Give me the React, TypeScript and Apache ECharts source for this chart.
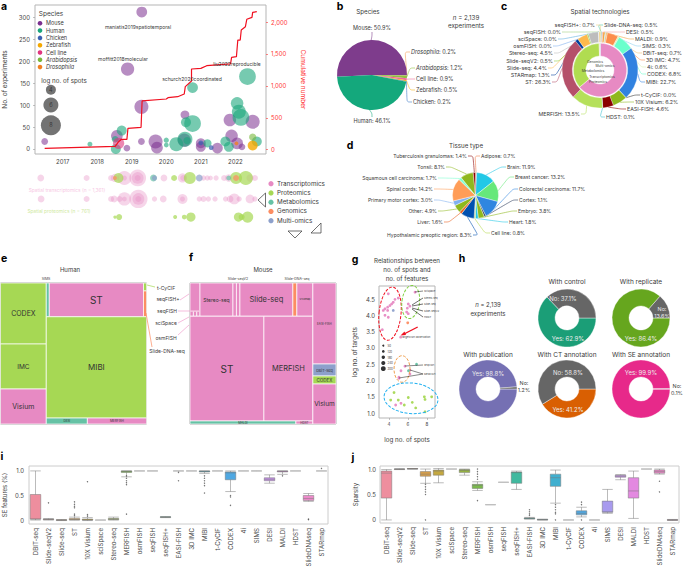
import React, { useEffect, useRef } from "react";
import * as echarts from "echarts";

const FONT = "Inter, Roboto, sans-serif";
const INK = "#3a3a3a";

// ---------- panel a ---------- [year, experiments, log spots]
const mouseBubbles = [[2016.48,17,2.7],[2019.29,312,4.3],[2018.88,182,5.3],[2019.28,96,5.6],[2019.28,17,2.7],[2018.57,30,4.7],[2018.86,2,2.7],[2019.69,17,5.6],[2019.73,3,4.7],[2020.54,78,3.5],[2020.52,20,5.3],[2021,13,4],[2021,5,4],[2021.48,2,4.3],[2021.84,66,5],[2021.89,30,5],[2022.05,13,4.7],[2022.5,62,5.6],[2022.19,5,2.7]];
const humanBubbles = [[2017.79,11,2],[2018.54,0,4],[2018.52,22,2.7],[2018.71,42,4],[2020,20,2.1],[2020,9,1.9],[2020.29,11,5.6],[2020.54,22,6],[2020.76,140,4.3],[2020.76,58,6.7],[2020.57,61,4],[2022.35,165,6.7],[2022.05,104,5],[2022.1,85,5.6],[2022.16,72,6.7],[2021.81,5,4],[2021.71,17,4],[2022.62,17,4],[2021.19,13,3.3],[2020.6,19,2.9]];
const chickenBubbles = [[2021.3,3,1.9],[2021,14,1.9]];
const zebrafishBubbles = [[2022.5,8,4]];
const cellLineBubbles = [[2018.62,13,4.5]];
const arabidopsisBubbles = [[2022.5,27,2.9]];
const drosophilaBubbles = [[2022.03,13,1.5]];
const sizeKeyBubbles = [[2016.66,135,4],[2016.66,100,6],[2016.66,54,8]];
const cumulative = [[2016.48,20],[2018.52,52],[2018.62,125],[2018.7,162],[2018.86,162],[2018.89,334],[2019.27,350],[2019.3,763],[2020,794],[2020.05,815],[2020.33,830],[2020.52,872],[2020.55,987],[2020.73,1076],[2020.73,1264],[2021,1274],[2021.17,1316],[2021.86,1343],[2021.89,1447],[2022.03,1457],[2022.07,1718],[2022.14,1718],[2022.17,1875],[2022.29,1927],[2022.33,2043],[2022.48,2074],[2022.5,2152],[2022.62,2163]];
const yearTicks = [2017,2018,2019,2020,2021,2022];
const experimentTicks = [0,50,100,150,200,250,300];
const cumulativeTicks = [0,500,1000,1500,2000];

// strips: [year, log spots]
const stripTranscriptomics1 = [[2016.45,2.7],[2017.76,2.4],[2018.46,2.4],[2018.57,3.3],[2018.84,5.6],[2018.84,2],[2019.22,6.7],[2019.22,4.7],[2019.22,2.4],[2019.97,2.7],[2020.5,3.7],[2020.52,2.4],[2021.1,2.1],[2021.21,2.1],[2021.3,1.9],[2021.46,2.1],[2021.69,2.4],[2021.82,2.9],[2022.43,2.9],[2022.57,2.4]];
const stripProteomics1 = [[2018.67,4],[2020.26,2.4],[2020.71,4.8],[2022.03,4.8],[2022.31,5.6]];
const stripMetabolomics1 = [[2019.67,2.7],[2021.82,1.9]];
const stripGenomics1 = [[2022.03,2.4],[2018.57,1.6]];
const stripMultiomics1 = [[2019.7,2.1],[2020.98,2.7]];
const stripTranscriptomics2 = [[2016.46,2.7],[2017.76,2.4],[2018.46,2.4],[2018.55,2.7],[2018.7,2.4],[2018.84,5.3],[2018.84,1.9],[2019.24,7.3],[2019.24,4.7],[2019.24,2.4],[2019.7,2.1],[2019.95,2.7],[2020.5,4],[2020.5,2],[2020.98,2.1],[2021.1,2.4],[2021.24,2.1],[2021.43,2.1],[2021.73,2.1],[2021.86,2.7],[2021.98,4.3],[2022.12,2.1],[2022.43,3.5],[2022.57,2.1]];
const stripProteomics3 = [[2018.57,1.3],[2018.69,2.4],[2020.29,1.6],[2020.55,1.9],[2020.74,3.7],[2022.1,3.7],[2022.36,4.5],[2022.19,2.4]];

// ---------- panels b, c, d ----------
const speciesNames = ["Mouse","Drosophila","Arabidopsis","Cell line","Zebrafish","Chicken","Human"];
const speciesValues = [50.9,0.2,1.2,0.9,0.5,0.2,46.1];
const techNames = ["Slide-DNA-seq","DESI","MALDI","SIMS","DBiT-seq","3D IMC","4i","CODEX","MIBI","t-CyCIF","10X Visium","EASI-FISH","HDST","MERFISH","ST","STARmap","Slide-seq","Slide-seqV2","Stereo-seq","osmFISH","sciSpace","seqFISH","seqFISH+"];
const techValues = [0.5,0.5,0.9,0.3,0.7,4.7,0.6,6.8,22.7,0.02,6.2,4.6,0.1,13.5,26.3,1.3,4.4,0.5,4.5,0.02,0.02,0.02,0.7];
const omicsNames = ["Transcriptomics","Proteomics","Metabolomics","Genomics","Multi-omics"];
const omicsValues = [63.6,35.6,0.3,0.2,0.3];
const tissueNames = ["Adipose","Brain","Breast cancer","Colorectal carcinoma","Cortex","Embryo","Heart","Cell line","Hypothalamic preoptic region","Liver","Other","Primary motor cortex","Spinal cords","Squamous cell carcinoma","Tonsil","Tuberculosis granulomas"];
const tissueValues = [0.7,11.9,13.2,11.7,1.1,3.8,1.8,0.8,8.3,1.6,4.9,3.0,14.2,1.7,8.1,1.4];

// ---------- panels e, f: cell areas ----------
const humanTree = { split: "h", children: [
  { split: "v", children: [{ name: "CODEX", omic: 1, value: 2806 },{ name: "IMC", omic: 1, value: 2070 },{ name: "Visium", omic: 0, value: 1610 }] },
  { split: "v", children: [
    { split: "h", children: [{ name: "SIMS", omic: 2, value: 102 },{ name: "ST", omic: 0, value: 3196 },{ split: "v", children: [{ name: "t-CyCIF", omic: 1, value: 24 },{ name: "Slide-DNA-seq", omic: 3, value: 78 }] }] },
    { name: "MIBI", omic: 1, value: 10200 },
    { split: "h", children: [{ name: "DESI", omic: 2, value: 246 },{ name: "MERFISH", omic: 0, value: 354 }] },
  ] },
] };
const mouseTree = { split: "h", children: [
  { split: "v", children: [
    { split: "h", children: [
      { split: "v", children: [{ name: "seqFISH+", omic: 0, value: 280 },{ split: "h", children: [{ name: "seqFISH", omic: 0, value: 17 },{ name: "sciSpace", omic: 0, value: 17 },{ name: "osmFISH", omic: 0, value: 16 }] }] },
      { name: "Stereo-seq", omic: 0, value: 1089 },
      { name: "Slide-seqV2", omic: 0, value: 115 },
      { name: "Slide-seqV2b", omic: 0, value: 115 },
      { name: "Slide-seq", omic: 0, value: 1749 },
      { name: "Slide-DNA-seq", omic: 3, value: 132 },
      { name: "STARmap", omic: 0, value: 528 },
    ] },
    { split: "h", children: [{ name: "ST", omic: 0, value: 7696 },{ name: "MERFISH", omic: 0, value: 5096 }] },
    { split: "h", children: [{ name: "MALDI", omic: 2, value: 318 },{ name: "HDST", omic: 0, value: 51 }] },
  ] },
  { split: "v", children: [{ name: "EASI-FISH", omic: 0, value: 1863 },{ name: "DBiT-seq", omic: 4, value: 276 },{ name: "CODEX", omic: 1, value: 184 },{ name: "Visium", omic: 0, value: 920 }] },
] };

// ---------- panel g ---------- [log spots, log targets]
const gTranscriptomics = [[3.93,4.66],[4.98,4.53],[4.63,4.49],[4.45,4.4],[4.28,4.35],[4.1,4.3],[3.86,4.25],[3.58,4.2],[3.4,4.15],[3.86,4.15],[3.58,4],[3.93,3.94],[3.3,3.56],[5.23,3.33],[6.74,4.71],[6.03,4.35],[5.93,4.22],[6.2,4.28],[5.86,4.1],[6.03,4.05],[5.68,2.44],[6.2,2.32],[5.26,2.3],[6.2,2.2],[5.05,2.1],[5.05,2.07],[4.7,1.25],[5.26,1.3]];
const gProteomics = [[4.53,1.63],[4.18,1.4],[4.98,1.4],[5.61,1.25],[6.03,1.48],[7.72,1.5],[7.79,1.42],[8.49,1.5],[6.45,1.33],[6.81,1.16],[7.79,1.04]];
const gMetabolomics = [[6.9,2.5],[6.05,2.3]];
const gGenomics = [[5.97,3.77]];
const gMultiomics = [[4.45,4.15]];
const gTicksX = [4,6,8];
const gTicksY = [1,1.5,2,2.5,3,3.5,4,4.5];

// ---------- panel h ----------
const answerNames = ["Yes","No"];
const controlValues = [62.9,37.1];
const replicateValues = [86.4,13.6];
const publicationValues = [98.8,1.2];
const ctValues = [41.2,58.8];
const seValues = [99.9,0.1];

// ---------- panels i, j ----------
const boxCategoriesI = ["DBIT-seq","Slide-seqV2","Slide-seq","ST","10X Visium","sciSpace","Stereo-seq","MERFISH","osmFISH","seqFISH","seqFISH+","EASI-FISH","3D IMC","MIBI","t-CyCIF","CODEX","4i","SIMS","DESI","MALDI","HDST","SlideDNAseq","STARmap"];
const boxCategoriesJ = ["DBiT-seq","Slide-seqV2","Slide-seq","ST","10X Visium","sciSpace","Stereo-seq","MERFISH","osmFISH","seqFISH","seqFISH+","EASI-FISH","3D IMC","MIBI","t-CyCIF","CODEX","4i","SIMS","DESI","MALDI","HDST","SlideDNAseq","STARmap"];
const seBoxes = [[0,0.02,0.02,0.52,1],[0,0.01,0.015,0.02,0.03],[-0.01,-0.005,0,0.005,0.01],[0,0.005,0.01,0.03,0.06],[-0.01,0,0.005,0.02,0.05],[0,0,0,0,0],[0,0.01,0.02,0.03,0.06],[0.88,0.97,0.99,1,1],[1,1,1,1,1],[1,1,1,1,1],[0.05,0.055,0.06,0.065,0.07],[1,1,1,1,1],[1,1,1,1,1],[0.95,0.98,0.99,1,1],[1,1,1,1,1],[0.58,0.82,0.96,0.98,1],[1,1,1,1,1],[0.995,1,1,1,1.005],[0.75,0.8,0.83,0.86,0.92],[0.93,0.98,0.99,1,1],[1,1,1,1,1],[0.38,0.4,0.44,0.5,0.54],[1,1,1,1,1]];
const seOutliers = [[1,0.35],[3,0.37],[3,0.32],[3,0.28],[3,0.25],[3,0.12],[3,0.09],[4,0.78],[4,0.11],[4,0.08],[7,0.9],[7,0.85],[7,0.8],[7,0.76],[7,0.72],[7,0.12],[11,0.97],[11,0.8],[13,0.9],[13,0.85],[13,0.8],[13,0.75],[13,0.7],[13,0.55],[15,0.5],[15,0.47],[15,0.3],[19,0.9],[21,0.02],[21,0.01],[22,1.05]];
const sparsityBoxes = [[0,0.43,0.92,0.96,0.99],[0.99,0.995,1,1,1.005],[1,1,1.005,1.01,1.01],[0.72,0.86,0.9,0.95,1],[0.73,0.88,0.96,0.98,1.01],[1,1,1,1,1],[0.88,0.93,0.97,0.99,1],[0.58,0.62,0.68,0.7,0.75],[0.3,0.3,0.3,0.3,0.3],[0.74,0.74,0.74,0.74,0.74],[0.6,0.72,0.93,0.94,0.96],[0.02,0.02,0.03,0.04,0.05],[0,0,0.005,0.01,0.015],[0.33,0.66,0.83,0.9,0.98],[0,0,0,0,0],[0.06,0.1,0.13,0.18,0.25],[0,0,0,0,0],[0.13,0.15,0.16,0.37,0.6],[0.79,0.84,0.86,0.88,0.89],[0.03,0.43,0.57,0.83,0.96],[1,1,1,1,1],[0.9,0.92,0.95,0.98,1],[-0.01,-0.005,0,0.005,0.01]];
const sparsityOutliers = [[3,0.7],[3,0.65],[3,0.6],[3,0.55],[3,0.5],[3,0],[7,0.8],[7,0.85],[7,0.9],[7,0.95],[7,1],[7,0.38],[11,0.2],[11,0.16],[11,0.12],[11,0.09],[13,0.3],[13,0.25],[13,0.2],[13,0.15],[13,0.12],[13,0],[15,0.3],[15,0.35],[15,0],[21,0.76],[21,0.55]];
const boxColors = ["#ee8e9e","#e9927f","#e2996a","#d9a04a","#c4a83f","#aeb03f","#96b53f","#7aba4a","#45bd80","#43bb95","#41b99f","#3eb6ad","#3eb3bf","#40afcf","#45acda","#4fa8e2","#7ba0ea","#a89aee","#c791ea","#e389e0","#ea89d6","#ee8acb","#f08bb5"];

const OMIC_COLORS = ["#e78ac3","#a6d854","#66c2a5","#fc8d62","#8da0cb"];
const SPECIES_COLORS = ["#7b2f8f","#1aa67b","#3a5fb0","#f5a800","#e0367f","#78b83c","#f08020"];
const SPECIES_PIE = ["#7e3c8c","#f5a050","#8fc040","#f06a96","#f5b820","#3a78c8","#14a87c"];
const TECH_COLORS = ["#4cc9a8","#f0a0a0","#f2a23c","#8ad0f0","#f0c070","#fc8d4c","#d8f0b0","#6affcc","#3182e0","#333","#8fb81e","#8b0000","#40c0d0","#b5e05a","#b5506a","#003e9c","#fdb94c","#8ad040","#bdbdbd","#80b0f0","#60b0e0","#a0d080","#f0d080"];
const TISSUE_COLORS = ["#f07848","#22c8e6","#66e87a","#2f86e0","#2a3a5a","#8fb81e","#22c8e6","#b5d84a","#0050b0","#e86020","#8fb81e","#80b0f0","#ff9d58","#80ffd0","#8fb81e","#8b0000"];
const TREE_SIZES = { "CODEX|h": 7, "IMC": 6.5, "Visium|h": 7, "ST|h": 10, "MIBI": 8, "DESI": 3, "MERFISH|h": 3.2, "Stereo-seq": 5, "Slide-seq": 7.5, "STARmap": 2.4, "ST|m": 10, "MERFISH|m": 7.5, "EASI-FISH": 3, "DBiT-seq": 3.8, "CODEX|m": 4.6, "Visium|m": 6.5, "MALDI": 3, "HDST": 3 };

function layoutTree(node: any, x0: number, x1: number, y0: number, y1: number, out: any[]) {
  if (!node.children) { out.push({ x0, x1, y0, y1, name: node.name, omic: node.omic }); return; }
  const sum = (n: any): number => n.children ? n.children.reduce((a: number, c: any) => a + sum(c), 0) : n.value;
  const total = sum(node);
  let pos = node.split === "h" ? x0 : y0;
  node.children.forEach((c: any) => {
    const span = (sum(c) / total) * (node.split === "h" ? x1 - x0 : y1 - y0);
    if (node.split === "h") layoutTree(c, pos, pos + span, y0, y1, out);
    else layoutTree(c, x0, x1, pos, pos + span, out);
    pos += span;
  });
}

function treeSeries(tree: any, axis: number, suffix: string) {
  const cells: any[] = [];
  layoutTree(tree, 0, 1, 0, 1, cells);
  return {
    type: "custom", coordinateSystem: "cartesian2d", xAxisIndex: axis, yAxisIndex: axis + 1, silent: true, clip: false,
    encode: { x: [0, 1], y: [2, 3] },
    data: cells.map((c) => [c.x0, c.x1, c.y0, c.y1]),
    renderItem: (params: any, api: any) => {
      const cell = cells[params.dataIndex];
      const a = api.coord([api.value(0), api.value(2)]);
      const b = api.coord([api.value(1), api.value(3)]);
      const size = (TREE_SIZES as any)[cell.name] || (TREE_SIZES as any)[cell.name + "|" + suffix];
      const children: any[] = [{ type: "rect", shape: { x: a[0], y: a[1], width: b[0] - a[0], height: b[1] - a[1] }, style: { fill: OMIC_COLORS[cell.omic], stroke: "#fff", lineWidth: 0.7, opacity: 1 } }];
      if (size) children.push({ type: "text", style: { text: cell.name, x: (a[0] + b[0]) / 2, y: (a[1] + b[1]) / 2, align: "center", verticalAlign: "middle", fontSize: size, fontFamily: FONT, fill: "#333" } });
      return { type: "group", children };
    },
  };
}

function bubbleSeries(data: number[][], color: string, opacity = 0.6, name?: string) {
  return { type: "scatter", name, xAxisIndex: 0, yAxisIndex: 0, silent: true, data, symbolSize: (v: number[]) => v[2] * 2.5, itemStyle: { color, opacity } };
}
function stripSeries(data: number[][], row: number, color: string, opacity = 0.36) {
  return { type: "scatter", xAxisIndex: 1, yAxisIndex: 2, silent: true, data: data.map((d) => [d[0], row, d[1]]), symbolSize: (v: number[]) => v[2] * 2.5, itemStyle: { color, opacity } };
}

function makePlacedPie(opts: any) {
  const { names, values, colors, center, radius, startAngle, places, fontSize, formatter, lineShow = true, labelColor = INK, border = 0 } = opts;
  const total = values.reduce((a: number, b: number) => a + b, 0);
  const mid: number[] = [];
  let acc = startAngle;
  values.forEach((v: number) => { const s = (v / total) * 360; mid.push(acc - s / 2); acc -= s; });
  return {
    type: "pie", silent: true, center, radius, startAngle, clockwise: true, avoidLabelOverlap: false, minShowLabelAngle: 0,
    data: names.map((n: string, i: number) => ({ name: n, value: values[i], itemStyle: { color: colors[i] } })),
    itemStyle: { borderColor: "#fff", borderWidth: border },
    label: { show: true, position: "outside", fontSize, fontFamily: FONT, color: labelColor, formatter, rich: { i: { fontStyle: "italic", fontSize, fontFamily: FONT, color: labelColor } }, lineHeight: fontSize + 1.5 },
    labelLine: { show: lineShow, smooth: 0.25, lineStyle: { width: 0.6 } },
    labelLayout: (p: any) => {
      const q = places[p.dataIndex];
      const rad = (mid[p.dataIndex] * Math.PI) / 180;
      const ex = center[0] + radius[1] * Math.cos(rad);
      const ey = center[1] - radius[1] * Math.sin(rad);
      const dir = q[2] === "left" ? -1 : q[2] === "right" ? 1 : 0;
      const end = dir === 0 ? [q[0], q[1] + (ey > q[1] ? 4 : -4)] : [q[0] + dir * 1, q[1]];
      const knee = dir === 0 ? [q[0], (end[1] + ey) / 2] : [q[0] + dir * 6, q[1]];
      return { x: q[0], y: q[1], align: q[2], verticalAlign: "middle", labelLinePoints: [[ex, ey], knee, end] };
    },
  };
}

const pct = (p: any) => `${p.name}: ${p.value.toFixed(1)}%`;
const italicPct = (p: any) => (p.name === "Drosophila" || p.name === "Arabidopsis") ? `{i|${p.name}}: ${p.value.toFixed(1)}%` : pct(p);

function txt(x: number, y: number, text: string, fontSize = 5.5, extra: any = {}) {
  return { type: "text", silent: true, z: 20, x, y, style: { text, fontSize, fontFamily: FONT, fill: INK, align: "center", verticalAlign: "middle", ...extra } };
}
function nText(x: number, y: number, fontSize: number) {
  return txt(x, y, "{i|n} = 2,139", fontSize, { rich: { i: { fontStyle: "italic", fontSize, fontFamily: FONT, fill: INK } } });
}
function ln(x1: number, y1: number, x2: number, y2: number, stroke: string, lineWidth = 0.7) {
  return { type: "line", silent: true, z: 18, shape: { x1, y1, x2, y2 }, style: { stroke, lineWidth } };
}
function ell(cx: number, cy: number, rx: number, ry: number, stroke: string, rotation = 0) {
  return { type: "ellipse", silent: true, z: 18, x: cx, y: cy, rotation, shape: { cx: 0, cy: 0, rx, ry }, style: { fill: "none", stroke, lineWidth: 1, lineDash: [3, 1.5] } };
}
const dot = (x: number, y: number, r: number, fill: string) => ({ type: "circle", silent: true, z: 20, shape: { cx: x, cy: y, r }, style: { fill } });

function axisBase(extra: any) {
  return { type: "value", splitLine: { show: false }, axisLine: { show: false }, ...extra };
}
const hiddenAxis = (extra: any) => ({ type: "value", show: false, ...extra });
const tickFont = { fontSize: 6, fontFamily: FONT, color: "#444" };
const ticks = (values: number[]) => ({ show: true, length: 2, lineStyle: { color: "#999", width: 0.6 }, customValues: values });

function buildOption() {
  const graphics: any[] = [
    ...[["a",4,6.5],["b",340,6.5],["c",504,6.5],["d",350,145],["e",4,258],["f",191,257],["g",355,259],["h",462,258],["i",2,456],["j",353,457]].map((p: any) => txt(p[1], p[2], p[0], 10.5, { fontWeight: "bold", fill: "#000" })),
    // a legend
    txt(51, 14, "Species", 6.5),
    ...["Mouse","Human","Chicken","Zebrafish","Cell line","Arabidopsis","Drosophila"].flatMap((n, i) => [dot(40, 23.3 + i * 7.3, 2.3, SPECIES_COLORS[i]), txt(46, 23.3 + i * 7.3, n, 5.5, { align: "left", fontStyle: i >= 5 ? "italic" : "normal" })]),
    txt(64, 80, "log no. of spots", 6.2),
    txt(138, 26.5, "maniatis2019spatiotemporal", 5),
    txt(123, 58.5, "moffitt2018molecular", 5),
    txt(192, 79, "schurch2020coordinated", 5),
    txt(237, 63.5, "liu2022reproducible", 5),
    // strips
    txt(67, 189.5, "Spatial transcriptomics (n = 1,361)", 4.8, { fill: "#f7c8e4" }),
    txt(59, 211, "Spatial proteomics (n = 761)", 4.8, { fill: "#cfe9a0" }),
    ...["Transcriptomics","Proteomics","Metabolomics","Genomics","Multi-omics"].flatMap((n, i) => [dot(271, 183.7 + i * 9.25, 2.6, OMIC_COLORS[i]), txt(277, 183.7 + i * 9.25, n, 6.3, { align: "left" })]),
    { type: "polygon", silent: true, shape: { points: [[258, 200],[265.5, 193],[265.5, 207]] }, style: { fill: "none", stroke: "#333", lineWidth: 0.7 } },
    { type: "polygon", silent: true, shape: { points: [[288, 231],[302, 231],[295, 238]] }, style: { fill: "none", stroke: "#333", lineWidth: 0.7 } },
    { type: "polygon", silent: true, shape: { points: [[311, 233],[321, 233],[321, 223]] }, style: { fill: "none", stroke: "#333", lineWidth: 0.7 } },
    // b, c, d titles
    txt(368, 11, "Species", 6.2),
    nText(466, 17, 6.2),
    txt(466, 25.5, "experiments", 6.2),
    txt(600, 11, "Spatial technologies", 6.2),
    txt(466, 145, "Tissue type", 6.2),
    // e, f
    txt(70, 269, "Human", 6),
    txt(263, 269, "Mouse", 6),
    txt(46, 279, "SIMS", 3.5),
    txt(238, 279, "Slide-seqV2", 3.5),
    txt(297, 279, "Slide-DNA-seq", 3.5),
    txt(166, 288, "t-CyCIF", 5),
    txt(168, 299, "seqFISH+", 5),
    txt(167, 311, "seqFISH", 5),
    txt(166, 323, "sciSpace", 5),
    txt(166, 338, "osmFISH", 5),
    txt(167, 351, "Slide-DNA-seq", 5),
    ln(147, 285, 155, 287, "#a6d854"),
    ln(180, 300, 189, 294, "#f0a0cf"),
    ln(178, 311, 200, 311, "#f0a0cf"),
    ln(178, 323, 189, 317, "#f0a0cf"),
    ln(178, 335, 189, 325, "#f0a0cf"),
    ln(146, 313, 152, 347, "#fc8d62"),
    // g
    txt(407, 260, "Relationships between", 6.2),
    txt(407, 269, "no. of spots and", 6.2),
    txt(407, 278, "no. of features", 6.2),
    ell(390, 313.7, 11, 26.7, "#f01020", -0.1),
    ell(410.7, 302, 8.8, 16.7, "#80d040", -0.12),
    ell(402, 369, 8, 13.3, "#f0a050"),
    ell(411, 398.3, 27, 15.3, "#20b0f0", -0.08),
    ln(417.7, 327, 404, 334, "#f01020", 1.4),
    { type: "polygon", silent: true, z: 19, shape: { points: [[400.5, 335.6],[404.5, 331.5],[406, 335]] }, style: { fill: "#f01020" } },
    ln(412, 305, 423, 298, "#111", 0.6),
    ln(412, 306, 423, 304, "#111", 0.6),
    ln(412, 308, 423, 311, "#111", 0.6),
    ln(412, 309, 423, 317, "#111", 0.6),
    ln(415, 292, 423, 291, "#111", 0.5),
    ln(405, 366, 423, 365, "#111", 0.5),
    ln(410, 370, 423, 374, "#111", 0.5),
    ln(399, 378, 423, 374, "#111", 0.5),
    ...["sciSpace","Stereo-seq","Slide-seq","Slide-seqV2","HDST"].map((n, i) => txt(424, [291, 298, 304, 311, 317][i], n, 2.6, { align: "left" })),
    txt(424, 365, "seqFISH", 2.6, { align: "left" }),
    txt(424, 374, "MERFISH", 2.6, { align: "left" }),
    txt(402, 337, "targetFISH observation", 2.6, { align: "left" }),
    ...["50","120","180","240","300"].flatMap((n, i) => [dot(383.3, 345.7 + i * 5.75, 1 + i * 0.35, "#333"), txt(387.5, 345.7 + i * 5.75, n, 2.8, { align: "left" })]),
    // h
    nText(488, 304, 6),
    txt(488, 313, "experiments", 6),
    txt(567, 282, "With control", 6.5),
    txt(641, 282, "With replicate", 6.5),
    txt(488, 355, "With publication", 6.5),
    txt(567, 355, "With CT annotation", 6.5),
    txt(641, 355, "With SE annotation", 6.5),
  ];

  const hPie = (values: number[], yesColor: string, cx: number, cy: number, yesPlace: number[], noPlace: number[], noColor = "#e8e8e8", noLabel?: string) => makePlacedPie({
    names: answerNames, values, colors: [yesColor, "#666666"], center: [cx, cy], radius: [12, 29], startAngle: 0,
    places: [[yesPlace[0], yesPlace[1], "center"], [noPlace[0], noPlace[1], "center"]], fontSize: 6, lineShow: false, labelColor: "#ececec", border: 0.4,
    formatter: (p: any) => p.name === "No" && noLabel ? `{o|No:}\n{o|${p.value.toFixed(1)}%}` : `${p.name}: ${p.value.toFixed(1)}%`,
  });
  const withRich = (s: any, color: string) => { s.label.rich.o = { color, fontSize: 5.4, fontFamily: FONT, lineHeight: 7, align: "center" }; return s; };

  const boxSeries = (boxes: number[][], xi: number, yi: number) => ({
    type: "boxplot", xAxisIndex: xi, yAxisIndex: yi, silent: true, boxWidth: [10.5, 10.5],
    data: boxes.map((b, i) => ({ value: b, itemStyle: { color: boxColors[i], borderColor: b[3] - b[1] < 0.005 ? "#bbb" : "#777", borderWidth: 0.5 } })),
  });
  const dotsSeries = (d: number[][], xi: number, yi: number) => ({ type: "scatter", xAxisIndex: xi, yAxisIndex: yi, silent: true, symbolSize: 1.4, itemStyle: { color: "#555" }, data: d });
  const gSeries = (d: number[][], c: string) => ({ type: "scatter", xAxisIndex: 2, yAxisIndex: 3, silent: true, symbolSize: 2.8, itemStyle: { color: c, opacity: 0.95 }, data: d });

  const frame = { show: true, borderColor: "#b5b5b5", borderWidth: 1, backgroundColor: "transparent" };
  return {
    animation: false,
    textStyle: { fontFamily: FONT },
    grid: [
      { left: 32, top: 5, width: 234, height: 149, ...frame },
      { left: 32, top: 169.6, width: 234, height: 58.8, show: false },
      { left: 379, top: 286, width: 56, height: 132, ...frame },
      { left: 28, top: 466, width: 300, height: 58, ...frame, borderColor: "#ccc" },
      { left: 380, top: 466, width: 299, height: 57, ...frame, borderColor: "#ccc" },
      { left: 0.5, top: 283, width: 146, height: 141, ...frame, borderColor: "#8a8a8a" },
      { left: 190, top: 283, width: 146, height: 141, ...frame, borderColor: "#8a8a8a" },
    ],
    xAxis: [
      axisBase({ gridIndex: 0, min: 2016.2, max: 2022.886, axisTick: { show: false }, axisLabel: { ...tickFont, margin: 4, customValues: yearTicks, formatter: (v: number) => String(v) } }),
      hiddenAxis({ gridIndex: 1, min: 2016.2, max: 2022.886 }),
      axisBase({ gridIndex: 2, min: 2.95, max: 8.84, name: "log no. of spots", nameLocation: "middle", nameGap: 18, nameTextStyle: { fontSize: 6.2, fontFamily: FONT, color: INK }, axisTick: ticks(gTicksX), axisLabel: { ...tickFont, fontSize: 4.5, margin: 4, customValues: gTicksX } }),
      { type: "category", gridIndex: 3, data: boxCategoriesI, axisLine: { show: false }, axisTick: { show: false }, axisLabel: { ...tickFont, fontSize: 6.2, rotate: 90, interval: 0, margin: 4 } },
      { type: "category", gridIndex: 4, data: boxCategoriesJ, axisLine: { show: false }, axisTick: { show: false }, axisLabel: { ...tickFont, fontSize: 6.2, rotate: 90, interval: 0, margin: 4 } },
      hiddenAxis({ gridIndex: 5, min: 0, max: 1 }),
      hiddenAxis({ gridIndex: 6, min: 0, max: 1 }),
    ],
    yAxis: [
      axisBase({ gridIndex: 0, min: -11.4, max: 328, name: "No. of experiments", nameLocation: "middle", nameGap: 27, nameTextStyle: { fontSize: 6.5, fontFamily: FONT, color: INK }, axisTick: ticks(experimentTicks), axisLabel: { ...tickFont, margin: 5, customValues: experimentTicks } }),
      axisBase({ gridIndex: 0, position: "right", min: -68, max: 2267, name: "Cumulative number", nameLocation: "middle", nameRotate: -90, nameGap: 33, nameTextStyle: { fontSize: 6.5, fontFamily: FONT, color: "#f33" }, axisTick: { ...ticks(cumulativeTicks), lineStyle: { color: "#f33", width: 0.6 } }, axisLabel: { ...tickFont, color: "#f33", margin: 5, customValues: cumulativeTicks, formatter: (v: number) => v.toLocaleString("en-US") } }),
      hiddenAxis({ gridIndex: 1, min: -0.4, max: 2.4, inverse: true }),
      axisBase({ gridIndex: 2, min: 0.85, max: 4.9, name: "log no. of targets", nameLocation: "middle", nameGap: 22, nameTextStyle: { fontSize: 6.2, fontFamily: FONT, color: INK }, axisTick: { show: false }, axisLabel: { ...tickFont, margin: 4, customValues: gTicksY, formatter: (v: number) => v.toFixed(1) } }),
      axisBase({ gridIndex: 3, min: -0.08, max: 1.1, name: "SE features (%)", nameLocation: "middle", nameGap: 22, nameTextStyle: { fontSize: 6, fontFamily: FONT, color: INK }, axisTick: { show: false }, axisLabel: { ...tickFont, margin: 5, customValues: [0, 0.5, 1], formatter: (v: number) => (v === 0 ? "0" : v.toFixed(1)) } }),
      axisBase({ gridIndex: 4, min: -0.06, max: 1.06, name: "Sparsity", nameLocation: "middle", nameGap: 22, nameTextStyle: { fontSize: 6, fontFamily: FONT, color: INK }, axisTick: { show: false }, axisLabel: { ...tickFont, margin: 4, customValues: [0, 0.5, 1], formatter: (v: number) => (v === 0 ? "0" : v.toFixed(1)) } }),
      hiddenAxis({ gridIndex: 5, min: 0, max: 1, inverse: true }),
      hiddenAxis({ gridIndex: 6, min: 0, max: 1, inverse: true }),
    ],
    series: [
      bubbleSeries(mouseBubbles, SPECIES_COLORS[0], 0.55, "Mouse"),
      bubbleSeries(humanBubbles, SPECIES_COLORS[1], 0.6, "Human"),
      bubbleSeries(chickenBubbles, SPECIES_COLORS[2], 0.7, "Chicken"),
      bubbleSeries(zebrafishBubbles, SPECIES_COLORS[3], 0.8, "Zebrafish"),
      bubbleSeries(cellLineBubbles, SPECIES_COLORS[4], 0.6, "Cell line"),
      bubbleSeries(arabidopsisBubbles, SPECIES_COLORS[5], 0.6, "Arabidopsis"),
      bubbleSeries(drosophilaBubbles, SPECIES_COLORS[6], 0.8, "Drosophila"),
      { ...bubbleSeries(sizeKeyBubbles, "#444", 0.75), label: { show: true, position: "inside", fontSize: 5.5, fontFamily: FONT, color: "#222", formatter: (p: any) => String(p.value[2]) } },
      { type: "line", xAxisIndex: 0, yAxisIndex: 1, silent: true, showSymbol: false, data: cumulative, lineStyle: { color: "#f01020", width: 1.2 }, z: 5 },
      stripSeries(stripTranscriptomics1, 0, OMIC_COLORS[0]),
      stripSeries(stripProteomics1, 0, OMIC_COLORS[1], 0.7),
      stripSeries(stripMetabolomics1, 0, OMIC_COLORS[2], 0.7),
      stripSeries(stripGenomics1, 0, OMIC_COLORS[3], 0.7),
      stripSeries(stripMultiomics1, 0, OMIC_COLORS[4], 0.7),
      stripSeries(stripTranscriptomics2, 1, OMIC_COLORS[0]),
      stripSeries(stripProteomics3, 1.86, OMIC_COLORS[1], 0.7),
      makePlacedPie({
        names: speciesNames, values: speciesValues, colors: SPECIES_PIE, center: [372, 75], radius: [0, 35], startAngle: 183, fontSize: 5.5, formatter: italicPct,
        places: [[372, 28, "center"],[411, 52, "left"],[416, 68, "left"],[416, 79, "left"],[416, 90, "left"],[413, 102, "left"],[372, 121, "center"]],
      }),
      makePlacedPie({ names: omicsNames, values: omicsValues, colors: ["#e78ac3","#b0dc50","#66c2a5","#fc8d62","#8da0cb"], center: [600, 70], radius: [14, 26.7], startAngle: 89, fontSize: 3.4, lineShow: false, border: 0.4,
        formatter: (p: any) => p.name,
        places: [[602, 77, "center"],[598, 82, "center"],[593, 71, "center"],[595, 62, "center"],[605, 66, "center"]],
      }),
      makePlacedPie({
        names: techNames, values: techValues, colors: TECH_COLORS, center: [600, 70], radius: [27.7, 38], startAngle: 89, fontSize: 5.3, formatter: pct, border: 0.3,
        places: [[604, 25, "left"],[626, 32, "left"],[635, 39, "left"],[642, 46, "left"],[643, 53, "left"],[646, 60, "left"],[647, 67, "left"],[647, 74, "left"],[646, 82, "left"],[641, 95, "left"],[635, 102, "left"],[627, 109, "left"],[606, 117, "left"],[580, 114, "right"],[551, 82, "right"],[550, 75, "right"],[547, 68, "right"],[553, 61, "right"],[553, 53, "right"],[552, 46, "right"],[557, 39, "right"],[561, 32, "right"],[595, 25, "right"]],
      }),
      makePlacedPie({
        names: tissueNames, values: tissueValues, colors: TISSUE_COLORS, center: [475.5, 195.5], radius: [0, 23], startAngle: 90, fontSize: 5, formatter: pct, border: 0.4,
        places: [[481, 156, "left"],[507, 167, "left"],[515, 177, "left"],[519, 189, "left"],[519, 200, "left"],[518, 211, "left"],[509, 222, "left"],[491, 233, "left"],[472, 235, "right"],[443, 222, "right"],[437, 211, "right"],[433, 200, "right"],[433, 189, "right"],[437, 178, "right"],[445, 167, "right"],[467, 156, "right"]],
      }),
      treeSeries(humanTree, 5, "h"),
      treeSeries(mouseTree, 6, "m"),
      gSeries(gTranscriptomics, "#e78ac3"),
      gSeries(gProteomics, "#a6d854"),
      gSeries(gMetabolomics, "#66c2a5"),
      gSeries(gGenomics, "#fc8d62"),
      gSeries(gMultiomics, "#8da0cb"),
      hPie(controlValues, "#1b9e77", 567, 318, [568, 338], [563, 298]),
      withRich(hPie(replicateValues, "#66a61e", 641, 318, [641, 338], [662, 312], "#ececec", "x"), "#ececec"),
      withRich(hPie(publicationValues, "#7570b3", 488, 389, [488, 373], [524, 386], "#333", "x"), INK),
      hPie(ctValues, "#d95f02", 567, 389, [568, 409], [568, 372]),
      withRich(hPie(seValues, "#e7298a", 641, 389, [641, 372], [677, 389], "#333", "x"), INK),
      boxSeries(seBoxes, 3, 4),
      dotsSeries(seOutliers, 3, 4),
      boxSeries(sparsityBoxes, 4, 5),
      dotsSeries(sparsityOutliers, 4, 5),
    ],
    graphic: graphics,
  };
}

export default function App() {
  const ref = useRef<HTMLDivElement>(null);
  useEffect(() => {
    document.body.style.margin = "0";
    const chart = echarts.init(ref.current as HTMLDivElement, undefined, { renderer: "svg" });
    chart.setOption(buildOption() as any);
    return () => chart.dispose();
  }, []);
  return <div ref={ref} style={{ width: 685, height: 572, position: "absolute", left: 0, top: 0 }} />;
}
